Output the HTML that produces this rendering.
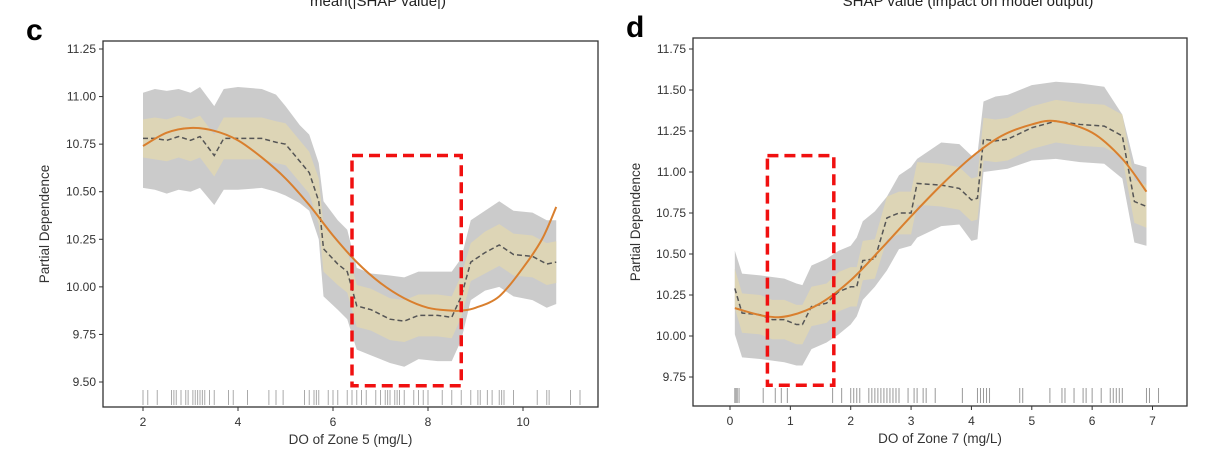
<!DOCTYPE html>
<html><head><meta charset="utf-8">
<style>
html,body{margin:0;padding:0;background:#fff;width:1223px;height:457px;overflow:hidden;}
svg{display:block;font-family:"Liberation Sans",sans-serif;overflow:hidden;}
</style></head>
<body>
<svg id="chart" width="1223" height="457" viewBox="0 0 1223 457" xmlns="http://www.w3.org/2000/svg">
<text x="378" y="6" text-anchor="middle" font-size="15" fill="#222">mean(|SHAP value|)</text>
<text x="968" y="6" text-anchor="middle" font-size="15" fill="#222">SHAP value (impact on model output)</text>
<text x="26" y="40" font-size="30" font-weight="bold" fill="#000">c</text>
<text x="626" y="37" font-size="30" font-weight="bold" fill="#000">d</text>
</svg>
<script>
// ---- Panel C data ----
const cX = [2,2.25,2.5,2.75,3,3.2,3.5,3.7,4,4.5,4.8,5,5.3,5.5,5.7,5.8,6.1,6.3,6.5,6.8,7.2,7.5,7.8,8.2,8.5,8.7,8.9,9.2,9.5,9.8,10.2,10.5,10.7];
const cMean = [10.78,10.78,10.77,10.79,10.77,10.79,10.69,10.78,10.78,10.78,10.76,10.75,10.66,10.6,10.45,10.2,10.12,10.08,9.9,9.88,9.83,9.82,9.85,9.85,9.84,9.95,10.13,10.18,10.22,10.17,10.16,10.12,10.13];
const cUpper = [11.02,11.04,11.03,11.04,11.02,11.05,10.95,11.04,11.05,11.04,11.01,10.95,10.85,10.8,10.65,10.45,10.35,10.3,10.1,10.07,10.06,10.05,10.08,10.08,10.08,10.15,10.35,10.4,10.45,10.4,10.39,10.35,10.35];
const cLower = [10.52,10.51,10.49,10.51,10.5,10.52,10.43,10.51,10.51,10.52,10.5,10.48,10.44,10.4,10.25,9.95,9.88,9.83,9.67,9.64,9.6,9.58,9.62,9.61,9.61,9.72,9.93,9.98,10.0,9.95,9.93,9.89,9.91];
const cInner = [0.1,0.11,0.11,0.11,0.11,0.11,0.11,0.11,0.11,0.11,0.11,0.11,0.11,0.11,0.12,0.12,0.11,0.11,0.11,0.11,0.11,0.11,0.11,0.11,0.11,0.11,0.1,0.11,0.11,0.11,0.11,0.11,0.11];
const cFitX = [2,2.5,3,3.5,4,4.5,5,5.5,6,6.5,7,7.5,8,8.5,8.7,9,9.5,10,10.4,10.7];
const cFitY = [10.74,10.81,10.835,10.82,10.77,10.68,10.57,10.43,10.27,10.13,10.02,9.94,9.89,9.875,9.875,9.89,9.95,10.1,10.25,10.42];
const cRug = [2.0,2.1,2.3,2.6,2.65,2.7,2.8,2.9,2.95,3.05,3.1,3.15,3.2,3.25,3.3,3.4,3.5,3.8,3.9,4.2,4.65,4.8,4.95,5.4,5.5,5.6,5.65,5.7,5.9,6.0,6.1,6.3,6.4,6.5,6.6,6.7,6.9,7.0,7.1,7.15,7.2,7.3,7.35,7.4,7.5,7.7,7.8,7.9,8.0,8.3,8.5,8.7,8.9,9.05,9.1,9.25,9.35,9.5,9.55,9.6,9.8,10.3,10.5,10.55,11.0,11.2];
const cXTicks = [2,4,6,8,10];
const cYTicks = [9.5,9.75,10.0,10.25,10.5,10.75,11.0,11.25];
const cRect = [6.4,8.7,9.48,10.69];

// ---- Panel D data ----
const dX = [0.08,0.2,0.5,0.7,0.9,1.1,1.2,1.35,1.6,1.8,2.0,2.1,2.2,2.4,2.6,2.8,3.0,3.1,3.5,3.8,4.0,4.1,4.2,4.4,4.6,5.0,5.4,5.8,6.2,6.5,6.7,6.9];
const dMean = [10.29,10.14,10.13,10.1,10.1,10.07,10.07,10.18,10.2,10.27,10.3,10.3,10.46,10.47,10.72,10.75,10.75,10.93,10.92,10.9,10.83,10.84,11.2,11.19,11.2,11.27,11.31,11.29,11.28,11.22,10.82,10.79];
const dUpper = [10.52,10.38,10.37,10.36,10.35,10.32,10.31,10.43,10.47,10.52,10.55,10.6,10.7,10.76,10.85,10.98,11.03,11.08,11.18,11.17,11.1,11.11,11.43,11.46,11.47,11.53,11.55,11.54,11.52,11.35,11.05,11.03];
const dLower = [10.01,9.87,9.86,9.85,9.84,9.82,9.82,9.92,9.96,10.01,10.07,10.12,10.22,10.3,10.4,10.53,10.55,10.6,10.67,10.68,10.58,10.59,11.0,11.01,11.02,11.07,11.08,11.06,11.05,10.96,10.57,10.55];
const dInner = [0.12,0.12,0.12,0.12,0.12,0.12,0.12,0.12,0.12,0.12,0.12,0.12,0.12,0.12,0.13,0.13,0.13,0.13,0.13,0.13,0.13,0.13,0.13,0.13,0.13,0.13,0.13,0.13,0.13,0.13,0.13,0.13];
const dFitX = [0.08,0.6,1.0,1.5,2.0,2.5,3.0,3.5,4.0,4.5,5.0,5.4,6.0,6.5,6.9];
const dFitY = [10.17,10.12,10.125,10.2,10.34,10.53,10.73,10.92,11.09,11.22,11.29,11.31,11.24,11.08,10.88];
const dRug = [0.08,0.1,0.12,0.15,0.55,0.75,0.85,0.95,1.7,1.85,2.0,2.05,2.1,2.15,2.3,2.35,2.4,2.45,2.5,2.55,2.6,2.65,2.7,2.75,2.8,2.95,3.05,3.1,3.2,3.25,3.4,3.85,4.1,4.15,4.2,4.25,4.3,4.8,4.85,5.3,5.5,5.55,5.7,5.85,5.9,6.0,6.15,6.3,6.35,6.4,6.45,6.5,6.9,6.95,7.1];
const dXTicks = [0,1,2,3,4,5,6,7];
const dYTicks = [9.75,10.0,10.25,10.5,10.75,11.0,11.25,11.5,11.75];
const dRect = [0.62,1.72,9.70,11.10];

const NS = "http://www.w3.org/2000/svg";
const svg = document.getElementById('chart');
function mk(tag, attrs, parent){const e=document.createElementNS(NS,tag);for(const k in attrs)e.setAttribute(k,attrs[k]);(parent||svg).appendChild(e);return e;}

function smooth(pts){
  let d='M'+pts[0][0]+','+pts[0][1];
  for(let i=0;i<pts.length-1;i++){
    const p0=pts[i-1]||pts[i],p1=pts[i],p2=pts[i+1],p3=pts[i+2]||p2;
    const c1=[p1[0]+(p2[0]-p0[0])/6,p1[1]+(p2[1]-p0[1])/6];
    const c2=[p2[0]-(p3[0]-p1[0])/6,p2[1]-(p3[1]-p1[1])/6];
    d+=' C'+c1+' '+c2+' '+p2;
  }
  return d;
}

function panel(o){
  const g=mk('g',{});
  
  
  const sx=v=>o.x0px+(v-o.x0)*(o.x1px-o.x0px)/(o.x1-o.x0);
  const sy=v=>o.y0px+(v-o.y0)*(o.y1px-o.y0px)/(o.y1-o.y0);
  let d='M'+o.xs.map((x,i)=>sx(x)+','+sy(o.up[i])).join(' L')+' L'+o.xs.slice().reverse().map((x,j)=>{const i=o.xs.length-1-j;return sx(x)+','+sy(o.lo[i]);}).join(' L')+'Z';
  const ob=mk('path',{d:d,fill:'#cbcbcb'},g);
  
  
  d='M'+o.xs.map((x,i)=>sx(x)+','+sy(o.mean[i]+o.inner[i])).join(' L')+' L'+o.xs.slice().reverse().map((x,j)=>{const i=o.xs.length-1-j;return sx(x)+','+sy(o.mean[i]-o.inner[i]);}).join(' L')+'Z';
  const ib=mk('path',{d:d,fill:'#ddd5b6'},g);
  
  
  const ml=mk('polyline',{points:o.xs.map((x,i)=>sx(x)+','+sy(o.mean[i])).join(' '),fill:'none',stroke:'#555','stroke-width':1.5,'stroke-dasharray':'5,3'},g);
  
  
  const fl=mk('path',{d:smooth(o.fx.map((x,i)=>[sx(x),sy(o.fy[i])])),fill:'none',stroke:'#d97f2e','stroke-width':2},g);
  
  
  o.rug.forEach(v=>{
    const r=mk('line',{x1:sx(v),x2:sx(v),y1:o.rugTop,y2:o.rugBot,stroke:o.rugColor||'#999','stroke-width':1},g);
    
    
  });
  const rr=mk('rect',{x:sx(o.rect[0]),y:sy(o.rect[3]),width:sx(o.rect[1])-sx(o.rect[0]),height:sy(o.rect[2])-sy(o.rect[3]),fill:'none',stroke:'#f01010','stroke-width':3.5,'stroke-dasharray':'11,6'},g);
  
  
  const fr=mk('rect',{x:o.bx0,y:o.by0,width:o.bx1-o.bx0,height:o.by1-o.by0,fill:'none',stroke:'#333','stroke-width':1.3},g);
  
  
  o.xt.forEach(v=>{
    const t=mk('line',{x1:sx(v),x2:sx(v),y1:o.by1,y2:o.by1+4,stroke:'#333'},g);
    
    
    const l=mk('text',{x:sx(v),y:o.by1+19,'text-anchor':'middle','font-size':12,fill:'#333'},g);
    l.textContent=v;
    
    
  });
  o.yt.forEach(v=>{
    const t=mk('line',{x1:o.bx0-4,x2:o.bx0,y1:sy(v),y2:sy(v),stroke:'#333'},g);
    
    
    const l=mk('text',{x:o.bx0-7,y:sy(v)+4,'text-anchor':'end','font-size':12,fill:'#333'},g);
    l.textContent=v.toFixed(2);
    
    
  });
  const xl=mk('text',{x:(o.bx0+o.bx1)/2,y:o.by1+37,'text-anchor':'middle','font-size':13.5,fill:'#333'},g);
  xl.textContent=o.xlabel;
  
  
  const yl=mk('text',{x:0,y:0,'text-anchor':'middle','font-size':13.5,fill:'#333',transform:'translate('+o.ylx+','+((o.by0+o.by1)/2)+') rotate(-90)'},g);
  yl.textContent='Partial Dependence';
  
  
}

panel({name:'panel-c-zone5',x0:2,x1:10,x0px:143,x1px:523,y0:9.5,y1:11.25,y0px:382,y1px:49,
  xs:cX,mean:cMean,up:cUpper,lo:cLower,inner:cInner,fx:cFitX,fy:cFitY,rug:cRug,rugTop:390,rugBot:405,rugColor:'#aaa',
  rect:cRect,bx0:103,bx1:598,by0:41,by1:407,xt:cXTicks,yt:cYTicks,xlabel:'DO of Zone 5  (mg/L)',ylx:49});
panel({name:'panel-d-zone7',x0:0,x1:7,x0px:730,x1px:1152.5,y0:9.75,y1:11.75,y0px:377,y1px:49,
  xs:dX,mean:dMean,up:dUpper,lo:dLower,inner:dInner,fx:dFitX,fy:dFitY,rug:dRug,rugTop:388,rugBot:403,rugColor:'#999',
  rect:dRect,bx0:693,bx1:1187,by0:38,by1:406,xt:dXTicks,yt:dYTicks,xlabel:'DO of Zone 7  (mg/L)',ylx:640});
</script>
</body></html>
